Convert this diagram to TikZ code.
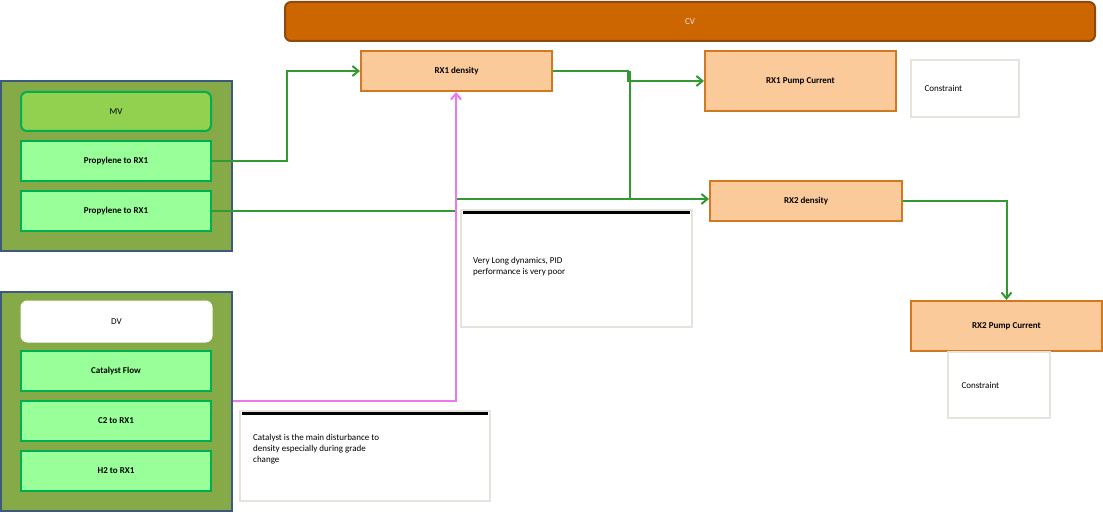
\documentclass[tikz,border=0pt]{standalone}
\usepackage{fontspec}
\setmainfont{Carlito}
\usetikzlibrary{arrows.meta}
\definecolor{cvfill}{HTML}{CC6600}
\definecolor{cvdraw}{HTML}{8B4A10}
\definecolor{outerfill}{HTML}{86AA48}
\definecolor{outerdraw}{HTML}{3C5A7E}
\definecolor{hdrfill}{HTML}{92D050}
\definecolor{gdraw}{HTML}{00B050}
\definecolor{itemfill}{HTML}{99FF99}
\definecolor{orfill}{HTML}{FBCA9A}
\definecolor{ordraw}{HTML}{D2781E}
\definecolor{conn}{HTML}{339933}
\definecolor{pink}{HTML}{EE77EE}
\definecolor{note}{HTML}{E4E4DC}
\begin{document}
\begin{tikzpicture}[x=1pt,y=-1pt,
  box/.style={draw,line width=2pt,inner sep=0,font=\bfseries\small},
  item/.style={box,fill=itemfill,draw=gdraw},
  orbox/.style={box,fill=orfill,draw=ordraw},
  notebox/.style={draw=note,line width=2pt,fill=white},
  conline/.style={draw=conn,line width=2pt,-{Straight Barb[length=6pt,width=10pt]}},
  outer/.style={draw=outerdraw,fill=outerfill,line width=2pt}]
\useasboundingbox (0,0) rectangle (1103,513);
\node[draw=cvdraw,fill=cvfill,line width=2pt,rounded corners=6pt,minimum width=810pt,minimum height=39pt,text=white!90!black,font=\small] (cv) at (690,21.5) {CV};
% MV group
\node[outer,minimum width=231pt,minimum height=169pt] (mvg) at (116.5,166) {};
\node[box,font=\small,fill=hdrfill,draw=gdraw,rounded corners=6pt,minimum width=190pt,minimum height=39pt] (mv) at (116,111.5) {MV};
\node[item,minimum width=190pt,minimum height=40pt] (p1) at (116,161) {Propylene to RX1};
\node[item,minimum width=190pt,minimum height=40pt] (p2) at (116,211) {Propylene to RX1};
% DV group
\node[outer,minimum width=231pt,minimum height=219pt] (dvg) at (116.5,401) {};
\node[box,font=\small,fill=white,draw=white,rounded corners=6pt,minimum width=190pt,minimum height=40pt] (dv) at (116.5,321.5) {DV};
\node[item,minimum width=190pt,minimum height=40pt] (cat) at (116,371) {Catalyst Flow};
\node[item,minimum width=190pt,minimum height=40pt] (c2) at (116,421) {C2 to RX1};
\node[item,minimum width=190pt,minimum height=40pt] (h2) at (116,471) {H2 to RX1};
% CV boxes
\node[orbox,minimum width=191pt,minimum height=40pt] (rx1) at (456.5,71) {RX1 density};
\node[orbox,minimum width=191pt,minimum height=60pt] (p1c) at (800.5,81) {RX1 Pump Current};
\node[orbox,minimum width=192pt,minimum height=40pt] (rx2) at (806,201) {RX2 density};
\node[orbox,minimum width=191pt,minimum height=50pt] (p2c) at (1006.5,326) {RX2 Pump Current};
\node[notebox,minimum width=108pt,minimum height=57pt] (con1) at (965,88.5) {};
\node[font=\small,anchor=west] (con1t) at (921,88) {Constraint};
\node[notebox,minimum width=102pt,minimum height=66pt] (con2) at (999,385) {};
\node[font=\small,anchor=west] (con2t) at (958,385) {Constraint};
% notes
\node[notebox,minimum width=231pt,minimum height=117pt] (n1) at (576.5,268.5) {};
\draw[line width=3pt] (463,213) -- (690,213);
\node[font=\small,anchor=north west,align=left,inner sep=0] (n1t) at (473,257) {Very Long dynamics, PID\\performance is very poor};
\node[notebox,minimum width=250pt,minimum height=90pt] (n2) at (365,456) {};
\draw[line width=3pt] (242,413) -- (488,413);
\node[font=\small,anchor=north west,align=left,inner sep=0] (n2t) at (253,434) {Catalyst is the main disturbance to\\density especially during grade\\change};
% connectors
\coordinate (j1) at (630,71);
\draw[conline] (p1.east) -| (287,71) -- (rx1.west);
\draw[conline] (rx1.east) -- (628,71) |- (p1c.west);
\draw[draw=conn,line width=2pt] (630,71) -- (630,199);
\draw[conline] (p2.east) -- (456,211) -- (456,199) -- (rx2.west |- 0,199);
\draw[conline] (rx2.east) -| (p2c.north);
\draw[draw=pink,line width=2pt,-{Straight Barb[length=6pt,width=10pt]}] (dvg.east |- 0,401) -- (456,401) -- (rx1.south -| 456,0);
\end{tikzpicture}
\end{document}
